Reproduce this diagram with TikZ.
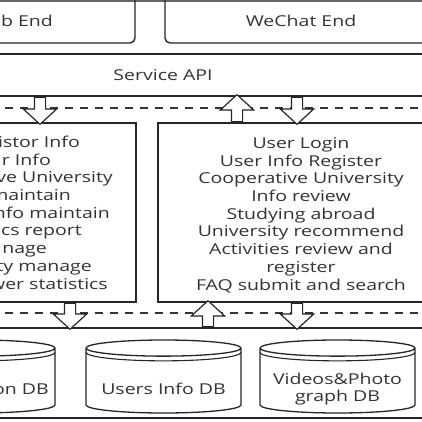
\documentclass[tikz,border=0pt]{standalone}
\usepackage{fontspec}
\setmainfont[FakeStretch=1.3]{Open Sans}
\usetikzlibrary{shapes.geometric,shapes.arrows,calc}

\begin{document}
\begin{tikzpicture}
      [x=1pt, y=1pt,
       every node/.style={
           font=\fontsize{15}{17.7}\selectfont,
           text=black!80
         },
       endbox/.style={
           rectangle,
           rounded corners=5pt,
           draw=black!85, line width=1.4pt,
           inner sep=0pt,
           text height=47pt, text depth=16pt,
           minimum width=272pt
         },
       layer/.style={
           rectangle,
           draw=black!85, line width=1.4pt,
           minimum width=700pt
         },
       funcbox/.style={
           rectangle,
           draw=black!85, line width=1.4pt,
           minimum width=286pt, minimum height=179pt,
           align=center
         },
       frag/.style={
           inner sep=0pt,
           anchor=base east
         },
       sepline/.style={
           draw=black!80, line width=1.3pt,
           dash pattern=on 8pt off 7pt
         },
       blockarr/.style={
           single arrow,
           draw=black!85, fill=white, line width=1.2pt,
           minimum height=27pt, minimum width=32pt,
           single arrow head extend=11pt,
           single arrow tip angle=95,
           inner sep=5pt
         },
       dbase/.style={
           cylinder,
           shape border rotate=90,
           aspect=0.11,
           draw=black!85, line width=1.3pt,
           text width=140pt,
           minimum width=155pt, minimum height=73pt
         },
       dbtext/.style={
           align=center
         },
       ]
    \path[use as bounding box, clip] (0,0) rectangle (422,-422);

    \draw[black!60, line width=2.5pt] (0,-1) -- (422,-1);

    \node [endbox, minimum width=227pt, anchor=base] (web) at (21.5,-27) {eb End};
    \node [endbox, anchor=base] (wechat) at (301,-27) {WeChat End};

    \node [layer, minimum height=42pt] (api) at (163,-75) {Service API};

    \draw [sepline] (-10,-108) -- (432,-108);

    \node [funcbox] (mgmt) at (-7,-212.5) {};
    \node [funcbox] (svc) at (301,-212.5) {
      \rule{0pt}{16pt}User Login\\
      User Info Register\\
      Cooperative University\\
      Info review\\
      Studying abroad\\
      University recommend\\
      Activities review and\\
      register\\
      FAQ submit and search
    };

    \foreach \yy/\xx/\txt in {147/80/istor Info, 165/51/r Info, 182/113/ve University,
                              200/71/maintain, 218/110/nfo maintain, 235/82/cs report,
                              253/47/nage, 271/92/ty manage, 289/108/wer statistics}
      \node [frag] (m\yy) at (\xx,-\yy) {\txt};

    \node [layer, minimum height=90pt] (store) at (211,-373) {};

    \draw [sepline] (-10,-313) -- (432,-313);

    \node [blockarr, shape border rotate=270, anchor=tail] (a1) at (api.south -| 40,0) {};
    \node [blockarr, shape border rotate=90, anchor=tail] (a2) at (svc.north -| 237,0) {};
    \node [blockarr, shape border rotate=270, anchor=tail] (a3) at (api.south -| 297,0) {};

    \node [blockarr, shape border rotate=270, anchor=tail, minimum height=26pt] (b1) at (mgmt.south -| 70,0) {};
    \node [blockarr, shape border rotate=90, anchor=tail, minimum height=26pt] (b2) at (store.north -| 208,0) {};
    \node [blockarr, shape border rotate=270, anchor=tail, minimum height=26pt] (b3) at (svc.south -| 297,0) {};

    \node [dbase, anchor=shape center] (db1) at (-22.5,-376.5) {};
    \node [dbase, anchor=shape center] (db2) at (163.5,-376.5) {};
    \node [dbase, anchor=shape center] (db3) at (337.5,-376.5) {};

    \draw [black!85, line width=1.1pt] ($(db1.top)+(-77.5,-13)$) arc [start angle=180, end angle=360, x radius=77.5, y radius=8.5];
    \draw [black!85, line width=1.1pt] ($(db2.top)+(-77.5,-13)$) arc [start angle=180, end angle=360, x radius=77.5, y radius=8.5];
    \draw [black!85, line width=1.1pt] ($(db3.top)+(-77.5,-13)$) arc [start angle=180, end angle=360, x radius=77.5, y radius=8.5];

    \node [frag] (t1) at (49,-394) {on DB};
    \node [dbtext] (t2) at ([yshift=-12pt]db2.shape center) {Users Info DB};
    \node [dbtext] (t3) at ([yshift=-12.5pt]db3.shape center) {Videos\&Photo\\graph DB};

  \end{tikzpicture}
\end{document}
